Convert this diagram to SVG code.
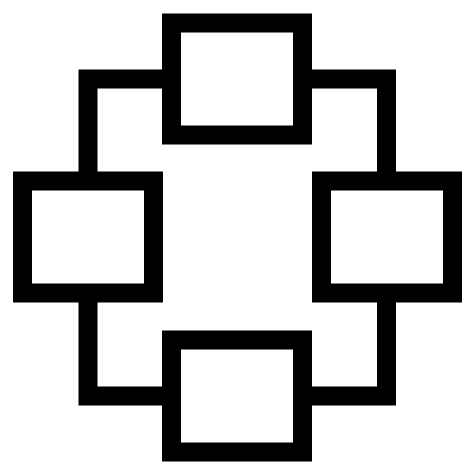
<svg xmlns="http://www.w3.org/2000/svg" width="474" height="474" viewBox="0 0 474 474">
<style>
.n{fill:none;stroke:#000;stroke-width:19}
.c{fill:none;stroke:#000;stroke-width:19;stroke-linejoin:miter;stroke-linecap:butt}
</style>
<rect width="474" height="474" fill="#fff"/>
<g id="connectors">
<polyline class="c" points="162,79 88,79 88,172"/>
<polyline class="c" points="312,79 386.5,79 386.5,172"/>
<polyline class="c" points="88,302 88,396 162,396"/>
<polyline class="c" points="386.5,302 386.5,396 312,396"/>
</g>
<g id="top"><rect class="n" x="171.5" y="23" width="131" height="112"/></g>
<g id="left"><rect class="n" x="22.5" y="181" width="131" height="112"/></g>
<g id="right"><rect class="n" x="321.5" y="181" width="131" height="112"/></g>
<g id="bottom"><rect class="n" x="171.5" y="340" width="131" height="112"/></g>
</svg>
